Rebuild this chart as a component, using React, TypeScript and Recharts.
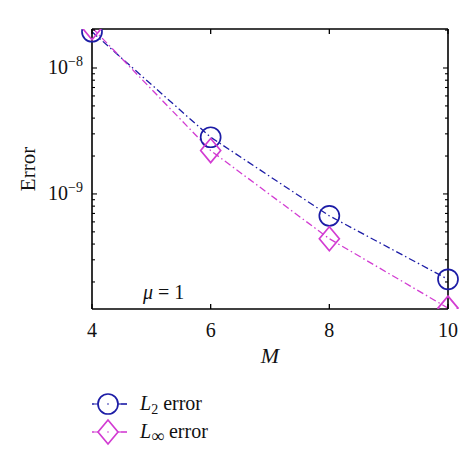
import { Customized, Legend, Line, LineChart, XAxis, YAxis } from "recharts";

const mValues = [4, 6, 8, 10];
const l2Error = [1.94e-8, 2.82e-9, 6.7e-10, 2.1e-10];
const lInfError = [2.09e-8, 2.21e-9, 4.41e-10, 1.24e-10];

const xTicks = [4, 6, 8, 10];
const majorTicks = [1e-9, 1e-8];
const minorTicks = [
  2e-10, 3e-10, 4e-10, 5e-10, 6e-10, 7e-10, 8e-10, 9e-10,
  2e-9, 3e-9, 4e-9, 5e-9, 6e-9, 7e-9, 8e-9, 9e-9, 2e-8,
];
const yDomain = [1.22e-10, 2.04e-8];

const data = mValues.map((m, i) => ({ m, l2: l2Error[i], linf: lInfError[i] }));

const BLUE = "#1c1ca6";
const PINK = "#d23cd2";
const FONT = "Liberation Serif";
const DASH = "7 3 1.5 3";

const W = 474;
const H = 470;
const MARGIN = { top: 28, right: 25, bottom: 101, left: 32 };
const Y_AXIS_W = 60;
const X_AXIS_H = 60;

const allYTicks = [...minorTicks, ...majorTicks].sort((a, b) => a - b);
const isMajor = (v: number) => majorTicks.some((t) => Math.abs(t - v) / t < 1e-6);

function BottomTick({ x, y, payload }: any) {
  return (
    <g>
      <line x1={x} y1={y} x2={x} y2={y - 5} stroke="#000" strokeWidth={1.3} />
      <text x={x} y={y + 28} textAnchor="middle" fontFamily={FONT} fontSize={20} fill="#111">
        {payload.value}
      </text>
    </g>
  );
}

function TopTick({ x, y }: any) {
  return <line x1={x} y1={y} x2={x} y2={y + 5} stroke="#000" strokeWidth={1.3} />;
}

function LeftTick({ x, y, payload }: any) {
  const major = isMajor(payload.value);
  const exp = Math.round(Math.log10(payload.value));
  return (
    <g>
      <line x1={x} y1={y} x2={x + (major ? 5 : 3)} y2={y} stroke="#000" strokeWidth={1.1} />
      {major && (
        <text x={x - 9} y={y + 6} textAnchor="end" fontFamily={FONT} fontSize={20} fill="#111">
          10
          <tspan dy={-8} fontSize={14}>
            {"\u2212" + Math.abs(exp)}
          </tspan>
        </text>
      )}
    </g>
  );
}

function RightTick({ x, y, payload }: any) {
  const major = isMajor(payload.value);
  return <line x1={x} y1={y} x2={x - (major ? 5 : 3)} y2={y} stroke="#000" strokeWidth={1.1} />;
}

function CircleDot({ cx, cy }: any) {
  return <circle cx={cx} cy={cy} r={10} fill="none" stroke={BLUE} strokeWidth={1.7} />;
}

function DiamondDot({ cx, cy }: any) {
  const w = 10;
  const h = 12;
  return (
    <polygon
      points={`${cx},${cy - h} ${cx + w},${cy} ${cx},${cy + h} ${cx - w},${cy}`}
      fill="none"
      stroke={PINK}
      strokeWidth={1.7}
    />
  );
}

function MuLabel() {
  const left = MARGIN.left + Y_AXIS_W;
  const bottom = H - MARGIN.bottom - X_AXIS_H;
  return (
    <text x={left + 51} y={bottom - 10} fontFamily={FONT} fontSize={20} fill="#111">
      <tspan fontStyle="italic">{"\u03bc"}</tspan>
      {" = 1"}
    </text>
  );
}

function LegendContent() {
  const rows = [
    { color: BLUE, name: "2", kind: "circle" },
    { color: PINK, name: "\u221e", kind: "diamond" },
  ];
  return (
    <svg width={220} height={60} style={{ display: "block" }}>
      {rows.map((r, i) => {
        const cy = 12 + i * 28;
        return (
          <g key={r.kind}>
            <line x1={4} y1={cy} x2={39} y2={cy} stroke={r.color} strokeWidth={1.2} strokeDasharray={DASH} />
            {r.kind === "circle" ? (
              <circle cx={20} cy={cy} r={10} fill="#fff" stroke={r.color} strokeWidth={1.7} />
            ) : (
              <polygon
                points={`20,${cy - 12} 30,${cy} 20,${cy + 12} 10,${cy}`}
                fill="#fff"
                stroke={r.color}
                strokeWidth={1.7}
              />
            )}
            <circle cx={20} cy={cy} r={0.8} fill={r.color} />
            <line x1={30} y1={cy} x2={39} y2={cy} stroke={r.color} strokeWidth={1.2} />
            <line x1={4} y1={cy} x2={6} y2={cy} stroke={r.color} strokeWidth={1.2} />
            <text x={52} y={cy + 6} fontFamily={FONT} fontSize={20} fill="#111">
              <tspan fontStyle="italic">L</tspan>
              <tspan dy={4} fontSize={r.kind === "circle" ? 14 : 18}>
                {r.name}
              </tspan>
              <tspan dy={-4}>{" error"}</tspan>
            </text>
          </g>
        );
      })}
    </svg>
  );
}

export default function App() {
  return (
    <div style={{ position: "absolute", left: 0, top: 0, background: "#fff" }}>
      <LineChart width={W} height={H} data={data} margin={MARGIN}>
        <XAxis
          dataKey="m"
          type="number"
          domain={[4, 10]}
          ticks={xTicks}
          height={X_AXIS_H}
          tickSize={0}
          tickMargin={0}
          tickLine={false}
          tick={<BottomTick />}
          axisLine={{ stroke: "#000", strokeWidth: 1.6 }}
          label={{ value: "M", position: "insideBottom", offset: 6, fontFamily: FONT, fontSize: 22, fontStyle: "italic", fill: "#111" }}
        />
        <XAxis
          xAxisId="top"
          dataKey="m"
          type="number"
          orientation="top"
          domain={[4, 10]}
          ticks={xTicks}
          height={1}
          tickSize={0}
          tickMargin={0}
          tickLine={false}
          tick={<TopTick />}
          axisLine={{ stroke: "#000", strokeWidth: 1.6 }}
        />
        <YAxis
          type="number"
          scale="log"
          domain={yDomain}
          allowDataOverflow
          ticks={allYTicks}
          interval={0}
          width={Y_AXIS_W}
          tickSize={0}
          tickMargin={0}
          tickLine={false}
          tick={<LeftTick />}
          axisLine={{ stroke: "#000", strokeWidth: 1.6 }}
          label={{ value: "Error", angle: -90, position: "insideLeft", offset: -4, fontFamily: FONT, fontSize: 21, fill: "#111", style: { textAnchor: "middle" } }}
        />
        <YAxis
          yAxisId="right"
          orientation="right"
          type="number"
          scale="log"
          domain={yDomain}
          allowDataOverflow
          ticks={allYTicks}
          interval={0}
          width={1}
          tickSize={0}
          tickMargin={0}
          tickLine={false}
          tick={<RightTick />}
          axisLine={{ stroke: "#000", strokeWidth: 1.6 }}
        />
        <Line
          dataKey="l2"
          stroke={BLUE}
          strokeWidth={1.3}
          strokeDasharray={DASH}
          dot={<CircleDot />}
          isAnimationActive={false}
        />
        <Line
          dataKey="linf"
          stroke={PINK}
          strokeWidth={1.3}
          strokeDasharray={DASH}
          dot={<DiamondDot />}
          isAnimationActive={false}
        />
        <Customized component={<MuLabel />} />
        <Legend
          layout="horizontal"
          verticalAlign="middle"
          align="center"
          content={<LegendContent />}
          wrapperStyle={{ left: 88, top: 392, width: 220, height: 60 }}
        />
      </LineChart>
    </div>
  );
}
